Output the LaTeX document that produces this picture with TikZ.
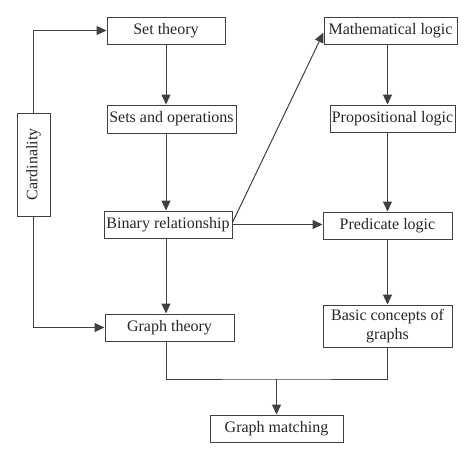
\documentclass[tikz,border=0pt]{standalone}
\usepackage{fontspec}
\setmainfont{Liberation Serif}
\usetikzlibrary{arrows.meta}
\definecolor{ln}{HTML}{404040}
\begin{document}
\begin{tikzpicture}[x=1pt,y=-1pt,
  box/.style={draw=ln,line width=1pt,inner sep=0pt,align=center,font=\fontsize{16}{19}\selectfont,text=black!85},
  arr/.style={draw=ln,line width=1pt,-{Triangle[length=10pt,width=9pt]}},
  ln/.style={draw=ln,line width=1pt}]
\useasboundingbox (0,0) rectangle (474,459);
\node[box,minimum width=118pt,minimum height=27pt] (set) at (166,30.5) {Set theory};
\node[box,minimum width=129pt,minimum height=28pt] (sets) at (171.5,119) {Sets and operations};
\node[box,minimum width=128pt,minimum height=27pt] (bin) at (168,224.5) {Binary relationship};
\node[box,minimum width=33pt,minimum height=103pt] (card) at (33.5,164.5) {};
\node[font=\fontsize{16}{19}\selectfont,text=black!85,rotate=90] (cardt) at (card.center) {Cardinality};
\node[box,minimum width=129pt,minimum height=27pt] (gt) at (169.5,327.5) {Graph theory};
\node[box,minimum width=133pt,minimum height=27pt] (gm) at (276.5,428.5) {Graph matching};
\node[box,minimum width=133pt,minimum height=27pt] (ml) at (390.5,30.5) {Mathematical logic};
\node[box,minimum width=125pt,minimum height=27pt] (pl) at (392.5,118.5) {Propositional logic};
\node[box,minimum width=129pt,minimum height=27pt] (pred) at (387.5,225.5) {Predicate logic};
\node[box,minimum width=129pt,minimum height=42pt] (basic) at (387.5,326) {Basic concepts of\\graphs};
\coordinate (mid) at (276.5,379);
% left column
\draw[arr] (set.south) -- (set.south |- sets.north);
\draw[arr] (sets.south -| set.south) -- (bin.north -| set.south);
\draw[arr] (bin.south -| set.south) -- (gt.north -| set.south);
% cardinality
\draw[arr] (card.north) |- (set.west);
\draw[arr] (card.south) |- (gt.west);
% right column
\draw[arr] (ml.south -| pred.north) -- (pl.north -| pred.north);
\draw[arr] (pl.south -| pred.north) -- (pred.north);
\draw[arr] (pred.south) -- (basic.north);
% binary relationship
\draw[arr] ([yshift=2pt]bin.east) -- ([yshift=-2pt]ml.west);
\draw[arr] (bin.east) -- (bin.east -| pred.west);
% bottom
\draw[ln] (gt.south -| set.south) |- (mid) -| (basic.south);
\draw[arr] (mid) -- (gm.north);
\end{tikzpicture}
\end{document}
